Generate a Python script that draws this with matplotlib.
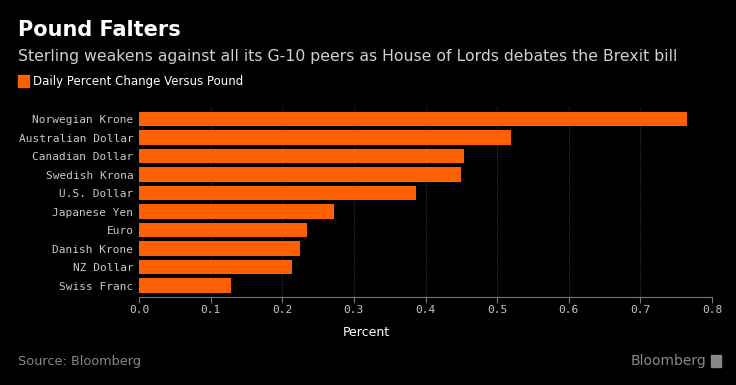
import matplotlib.pyplot as plt
from matplotlib.patches import Rectangle

currencies = ["Norwegian Krone", "Australian Dollar", "Canadian Dollar", "Swedish Krona",
              "U.S. Dollar", "Japanese Yen", "Euro", "Danish Krone", "NZ Dollar", "Swiss Franc"]
change = [0.765, 0.519, 0.454, 0.450, 0.387, 0.272, 0.234, 0.225, 0.214, 0.129]
xticks = [0.0, 0.1, 0.2, 0.3, 0.4, 0.5, 0.6, 0.7, 0.8]

orange = "#ff6000"
grey = "#c8c8c8"
cond = "DejaVu Sans Condensed"

fig = plt.figure(figsize=(7.36, 3.85), dpi=100, facecolor="black")
ax = fig.add_axes([139 / 736, 1 - 297 / 385, (712 - 139) / 736, (297 - 107) / 385])
ax.set_facecolor("black")

pos = list(range(len(currencies)))
ax.barh(pos, change, height=0.78, color=orange, zorder=3)
ax.set_ylim(9.62, -0.65)
ax.set_xlim(0, 0.8)

ax.set_yticks(pos)
ax.set_yticklabels(currencies, family="DejaVu Sans Mono", fontsize=8, color=grey)
ax.set_xticks(xticks)
ax.set_xticklabels([f"{t:.1f}" for t in xticks], family="DejaVu Sans Mono", fontsize=8, color=grey)
ax.tick_params(axis="y", length=0, pad=4)
ax.tick_params(axis="x", length=4, color="#777777", pad=2)

for t in xticks[1:]:
    ax.axvline(t, color="#333333", lw=0.8, ls=(0, (1, 1)), zorder=1)

for s in ["top", "right", "left"]:
    ax.spines[s].set_visible(False)
ax.spines["bottom"].set_color("#777777")

fig.text(366 / 736, 1 - 333 / 385, "Percent", color="white", fontsize=9, family=cond,
         va="center", ha="center")

fig.text(18 / 736, 1 - 30 / 385, "Pound Falters", color="white", fontsize=15,
         fontweight="bold", va="center", ha="left")
fig.text(18 / 736, 1 - 56 / 385,
         "Sterling weakens against all its G-10 peers as House of Lords debates the Brexit bill",
         color="#d0d0d0", fontsize=11.3, va="center", ha="left", family=cond)
fig.patches.append(Rectangle((18 / 736, 1 - 87 / 385), 11 / 736, 12 / 385,
                             transform=fig.transFigure, color=orange))
fig.text(33 / 736, 1 - 82 / 385, "Daily Percent Change Versus Pound", color="white",
         fontsize=8.5, va="center", ha="left", family=cond)
fig.text(18 / 736, 1 - 362 / 385, "Source: Bloomberg", color="#888888", fontsize=9.3,
         va="center", ha="left", family=cond)
fig.text(706 / 736, 1 - 361 / 385, "Bloomberg", color="#888888", fontsize=10,
         va="center", ha="right", family=cond)
fig.patches.append(Rectangle((711 / 736, 1 - 367 / 385), 10 / 736, 12 / 385,
                             transform=fig.transFigure, color="#888888"))

fig.savefig("out.png", dpi=100, facecolor="black")
